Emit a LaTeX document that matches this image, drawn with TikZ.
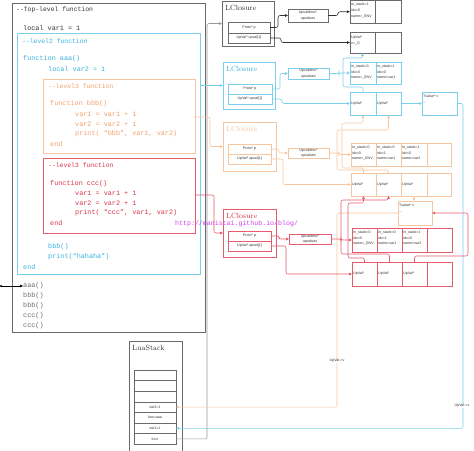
\documentclass[tikz,border=0pt]{standalone}
\usepackage{fontspec}
\newfontfamily\codefont{Liberation Mono}
\newfontfamily\lblfont{Liberation Sans}
\usetikzlibrary{arrows.meta,fit,calc}
\definecolor{cK}{HTML}{6A6A6A}
\definecolor{cKt}{HTML}{333333}
\definecolor{cB}{HTML}{7CCFEA}
\definecolor{cBt}{HTML}{38B2E0}
\definecolor{cO}{HTML}{F6C6A0}
\definecolor{cOt}{HTML}{F2A06C}
\definecolor{cR}{HTML}{E65C6C}
\definecolor{cRt}{HTML}{D8344A}
\definecolor{cM}{HTML}{D23CF0}
\tikzset{
  rect/.style={draw, inner sep=0pt, outer sep=0pt, line width=0.6pt},
  cbox/.style={draw, inner sep=0pt, outer sep=0pt, line width=0.9pt},
  code/.style={anchor=west, inner sep=0pt, font=\codefont\fontsize{6.8}{8}\selectfont},
  cmt/.style={anchor=west, inner sep=0pt, font=\codefont\fontsize{6.4}{8}\selectfont},
  small/.style={inner sep=0pt, align=left, font=\lblfont\fontsize{3.6}{5.8}\selectfont},
  ttl/.style={anchor=north west, inner sep=0pt, font=\fontsize{7.5}{8}\selectfont},
  conn/.style={line width=0.55pt, rounded corners=2pt, -{Triangle[length=2.8pt,width=2.4pt]}},
}
\begin{document}
\begin{tikzpicture}[x=1pt,y=-1pt]
\useasboundingbox (0,0) rectangle (474,450);

% ---------------- code boxes ----------------
\node[cbox,cK,fit={(12,3) (205,332)}] (top) {};
\node[cbox,cB,fit={(17,33) (200,274)}] (uCode) {};
\node[cbox,cO,fit={(43,79) (195,153)}] (oCode) {};
\node[cbox,cR,fit={(43,158) (195,233)}] (rCode) {};

\node[cmt,cKt] (k1) at (16,10) {--Top-level function};
\node[code,cKt] (k2) at (23,28) {local var1 = 1};

\node[cmt,cBt] (u1) at (22,41) {--level2 function};
\node[code,cBt] (u2) at (23,59) {function aaa()};
\node[code,cBt] (u3) at (48,69) {local var2 = 1};
\node[code,cBt] (u4) at (48,247) {bbb()};
\node[code,cBt] (u5) at (48,257) {print(“hahaha”)};
\node[code,cBt] (u6) at (23,267) {end};

\node[cmt,cOt] (o1) at (48,86) {--level3 function};
\node[code,cOt] (o2) at (50,104) {function bbb()};
\node[code,cOt] (o3) at (75,114) {var1 = var1 + 1};
\node[code,cOt] (o4) at (75,124) {var2 = var2 + 1};
\node[code,cOt] (o5) at (75,134) {print( “bbb”, var1, var2)};
\node[code,cOt] (o6) at (50,144) {end};

\node[cmt,cRt] (r1) at (48,165) {--level3 function};
\node[code,cRt] (r2) at (50,184) {function ccc()};
\node[code,cRt] (r3) at (75,193) {var1 = var1 + 1};
\node[code,cRt] (r4) at (75,203) {var2 = var2 + 1};
\node[code,cRt] (r5) at (75,213) {print( “ccc”, var1, var2)};
\node[code,cRt] (r6) at (50,223) {end};

\node[code,cK] (c1) at (23,286) {aaa()};
\node[code,cK] (c2) at (23,295.5) {bbb()};
\node[code,cK] (c3) at (23,305.5) {bbb()};
\node[code,cK] (c4) at (23,315.5) {ccc()};
\node[code,cK] (c5) at (23,325.5) {ccc()};

\coordinate (callin) at (1,286);
\fill[black] (callin) circle (1.2pt);
\draw[conn,black] (callin) -- (c1.west);

\node[code,cM,font=\codefont\fontsize{6.6}{8}\selectfont] (wm) at (175,224) {http://manistai.github.io/blog/};

% ---------------- LuaStack ----------------
\node[rect,cK,line width=0.8pt,fit={(129,341) (182,453)}] (stack) {};
\node[ttl,cKt] (stackt) at (132,345) {LuaStack};
\node[rect,cK,fit={(134,370) (176,380.6)}] (s1) {};
\node[rect,cK,fit={(134,380.6) (176,391.2)}] (s2) {};
\node[rect,cK,fit={(134,391.2) (176,401.8)}] (s3) {};
\node[rect,cK,fit={(134,401.8) (176,412.4)}] (sVar2) {};
\node[rect,cK,fit={(134,412.4) (176,423)}] (sAaa) {};
\node[rect,cK,fit={(134,423) (176,433.6)}] (sVar1) {};
\node[rect,cK,fit={(134,433.6) (176,444.2)}] (sFunc) {};
\node[small,cKt] (sVar2t) at (sVar2.center) {var2=1};
\node[small,cKt] (sAaat) at (sAaa.center) {func:aaa};
\node[small,cKt] (sVar1t) at (sVar1.center) {var1=1};
\node[small,cKt] (sFunct) at (sFunc.center) {func};

% ---------------- black closure ----------------
\node[rect,cK,line width=0.8pt,fit={(222,1) (274,46)}] (bLC) {};
\node[ttl,cKt] (bLCt) at (225,5) {LClosure};
\node[rect,cK,fit={(228,22) (270,33)}] (bProto) {};
\node[rect,cK,fit={(228,33) (270,43)}] (bUp) {};
\node[small,cKt] (bProtot) at (bProto.center) {Proto* p};
\node[small,cKt] (bUpt) at (bUp.center) {UpVal* upval[1]};
\node[rect,cK,fit={(288,9) (328,22)}] (bDesc) {};
\node[small,cKt,align=center] (bDesct) at (bDesc.center) {Upvaldesc*\\upvalues};
\node[rect,cK,fit={(350,0.5) (375,23)}] (bTab1) {};
\node[rect,cK,fit={(375,0.5) (401,23)}] (bTab2) {};
\node[small,cKt,anchor=north west] (bTab1t) at ($(bTab1.north west)+(1,2.5)$) {in\_stack=1\\idx=0\\name=\_ENV};
\node[rect,cK,fit={(350,32) (375,53)}] (bUV1) {};
\node[rect,cK,fit={(375,32) (401,53)}] (bUV2) {};
\node[small,cKt,anchor=north west] (bUV1t) at ($(bUV1.north west)+(1,4)$) {UpVal*\\v=\_G};

\draw[conn,cKt] (bProto.east) -- ++(8,0) |- (bDesc.west);
\draw[conn,cKt] (bDesc.east) -- ++(10,0) |- (bTab1.west);
\draw[conn,cKt] (bUp.east) -- ++(11,0) |- (bUV1.west);
\draw[conn,gray!80] (sFunc.east) -- ++(31,0) |- (bLC.west);

% ---------------- blue closure ----------------
\node[rect,cB,line width=0.8pt,fit={(223,62) (275,109)}] (uLC) {};
\node[ttl,cBt] (uLCt) at (226,66) {LClosure};
\node[rect,cB,fit={(228,84) (272,94)}] (uProto) {};
\node[rect,cB,fit={(228,94) (272,104)}] (uUp) {};
\node[small,cKt] (uProtot) at (uProto.center) {Proto* p};
\node[small,cKt] (uUpt) at (uUp.center) {UpVal* upval[1]};
\node[rect,cB,fit={(288,68) (329,79)}] (uDesc) {};
\node[small,cKt,align=center] (uDesct) at (uDesc.center) {Upvaldesc*\\upvalues};
\node[rect,cB,fit={(350,62) (376,84)}] (uTab1) {};
\node[rect,cB,fit={(376,62) (401,84)}] (uTab2) {};
\node[small,cKt,anchor=north west] (uTab1t) at ($(uTab1.north west)+(1,2.5)$) {in\_stack=0\\idx=0\\name=\_ENV};
\node[small,cKt,anchor=north west] (uTab2t) at ($(uTab2.north west)+(1,2.5)$) {in\_stack=1\\idx=0\\name=var1};
\node[rect,cB,fit={(350,92) (376,115)}] (uUV1) {};
\node[rect,cB,fit={(376,92) (401,115)}] (uUV2) {};
\node[small,cKt,anchor=west] (uUV1t) at ($(uUV1.west)+(1,0)$) {UpVal*};
\node[small,cKt,anchor=west] (uUV2t) at ($(uUV2.west)+(1,0)$) {UpVal*};
\node[rect,cB,fit={(422,92) (457,115)}] (uTV) {};
\node[small,cKt,anchor=north west] (uTVt) at ($(uTV.north west)+(1,2.5)$) {Tvalue* v\\...};

\draw[conn,cB] (uCode.east |- uLC.west) -- (uLC.west);
\draw[conn,cB] (uProto.east) -- ++(8,0) |- (uDesc.west);
\draw[conn,cB] (uDesc.east) -- ++(10,0) |- (uTab1.west);
\draw[conn,cB] (uUp.east) -- ++(10,0) |- (uUV1.west);
\draw[conn,cB] (uUV2.east) -- (uTV.west);
\draw[conn,cB] (uUV1.north) -- ++(0,-5) -| (343,58) -| (bUV1.south);
\draw[conn,cB] (uTV.east) -- ++(6,0) |- (sVar1.east);
\node[small,cKt,fill=white,inner sep=0.6pt] (lv2) at (462,406) {UpVal->v};

% ---------------- orange closure ----------------
\node[rect,cO,line width=0.8pt,fit={(223,122) (276,171)}] (oLC) {};
\node[ttl,cO] (oLCt) at (226,126) {LClosure};
\node[rect,cO,fit={(228,144) (271,154)}] (oProto) {};
\node[rect,cO,fit={(228,154) (271,164)}] (oUp) {};
\node[small,cKt] (oProtot) at (oProto.center) {Proto* p};
\node[small,cKt] (oUpt) at (oUp.center) {UpVal* upval[1]};
\node[rect,cO,fit={(288,148) (329,158)}] (oDesc) {};
\node[small,cKt,align=center] (oDesct) at (oDesc.center) {Upvaldesc*\\upvalues};
\node[rect,cO,fit={(351,143) (376,166)}] (oTab1) {};
\node[rect,cO,fit={(376,143) (401,166)}] (oTab2) {};
\node[rect,cO,fit={(401,143) (427,166)}] (oTab3) {};
\node[rect,cO,fit={(427,143) (451,166)}] (oTab4) {};
\node[small,cKt,anchor=north west] (oTab1t) at ($(oTab1.north west)+(1,2.5)$) {in\_stack=0\\idx=0\\name=\_ENV};
\node[small,cKt,anchor=north west] (oTab2t) at ($(oTab2.north west)+(1,2.5)$) {in\_stack=0\\idx=1\\name=var1};
\node[small,cKt,anchor=north west] (oTab3t) at ($(oTab3.north west)+(1,2.5)$) {in\_stack=1\\idx=0\\name=var2};
\node[rect,cO,fit={(351,173) (376,196)}] (oUV1) {};
\node[rect,cO,fit={(376,173) (401,196)}] (oUV2) {};
\node[rect,cO,fit={(401,173) (427,196)}] (oUV3) {};
\node[rect,cO,fit={(427,173) (451,196)}] (oUV4) {};
\node[small,cKt,anchor=west] (oUV1t) at ($(oUV1.west)+(1,0)$) {UpVal*};
\node[small,cKt,anchor=west] (oUV2t) at ($(oUV2.west)+(1,0)$) {UpVal*};
\node[small,cKt,anchor=west] (oUV3t) at ($(oUV3.west)+(1,0)$) {UpVal*};
\node[rect,cO,fit={(398,201) (432,225)}] (oTV) {};
\node[small,cKt,anchor=north west] (oTVt) at ($(oTV.north west)+(1,2.5)$) {Tvalue* v\\...};

\draw[conn,cO] ($(oCode.north east)+(0,38)$) -- ++(15,0) |- (oLC.west);
\draw[conn,cO] (oProto.east) -- ++(8,0) |- (oDesc.west);
\draw[conn,cO] (oDesc.east) -- ++(10,0) |- (oTab1.west);
\draw[conn,cO] (oUp.east) -- ++(12,0) |- (oUV1.west);
\draw[conn,cO] (oUV1.north) -- ++(0,-5) -| (342,123) -| (uUV1.south);
\draw[conn,cO] (oUV2.north) -- ++(0,-3) -| (337,130) -| (uUV2.south);
\draw[conn,cO] (oUV3.south) -- (oUV3.south |- oTV.north);
\draw[conn,cO] (oTV.west) -- ++(-61,0) |- (sVar2.east);
\node[small,cKt,fill=white,inner sep=0.6pt] (lv1) at (337,361) {UpVal->v};

% ---------------- red closure ----------------
\node[rect,cR,line width=0.8pt,fit={(223,209) (276,257)}] (rLC) {};
\node[ttl,cRt] (rLCt) at (226,213) {LClosure};
\node[rect,cR,fit={(228,231) (271,241)}] (rProto) {};
\node[rect,cR,fit={(228,241) (271,251)}] (rUp) {};
\node[small,cKt] (rProtot) at (rProto.center) {Proto* p};
\node[small,cKt] (rUpt) at (rUp.center) {UpVal* upval[1]};
\node[rect,cR,fit={(289,234) (331,244)}] (rDesc) {};
\node[small,cKt,align=center] (rDesct) at (rDesc.center) {Upvaldesc*\\upvalues};
\node[rect,cR,fit={(352,228) (377,252)}] (rTab1) {};
\node[rect,cR,fit={(377,228) (402,252)}] (rTab2) {};
\node[rect,cR,fit={(402,228) (427,252)}] (rTab3) {};
\node[rect,cR,fit={(427,228) (452,252)}] (rTab4) {};
\node[small,cKt,anchor=north west] (rTab1t) at ($(rTab1.north west)+(1,2.5)$) {in\_stack=0\\idx=0\\name=\_ENV};
\node[small,cKt,anchor=north west] (rTab2t) at ($(rTab2.north west)+(1,2.5)$) {in\_stack=0\\idx=1\\name=var1};
\node[small,cKt,anchor=north west] (rTab3t) at ($(rTab3.north west)+(1,2.5)$) {in\_stack=1\\idx=0\\name=var2};
\node[rect,cR,fit={(352,262) (377,286)}] (rUV1) {};
\node[rect,cR,fit={(377,262) (402,286)}] (rUV2) {};
\node[rect,cR,fit={(402,262) (427,286)}] (rUV3) {};
\node[rect,cR,fit={(427,262) (452,286)}] (rUV4) {};
\node[small,cKt,anchor=west] (rUV1t) at ($(rUV1.west)+(1,0)$) {UpVal*};
\node[small,cKt,anchor=west] (rUV2t) at ($(rUV2.west)+(1,0)$) {UpVal*};
\node[small,cKt,anchor=west] (rUV3t) at ($(rUV3.west)+(1,0)$) {UpVal*};

\draw[conn,cR] ($(rCode.north east)+(0,37)$) -- ++(19,0) |- (rLC.west);
\draw[conn,cR] (rProto.east) -- ++(8,0) |- (rDesc.west);
\draw[conn,cR] (rDesc.east) -- ++(10,0) |- (rTab1.west);
\draw[conn,cR] (rUp.east) -- ++(15,0) |- (rUV1.west);
\draw[conn,cR] (rUV1.north) -- ++(0,-4) -| (348,203) -| (oUV1.south);
\draw[conn,cR] (rUV2.north) -- ++(0,-8) -| (341,200) -| (oUV2.south);
\draw[conn,cR] (rUV3.north) -- ++(0,-6) -| (468,213) -- (oTV.east);
\end{tikzpicture}
\end{document}
